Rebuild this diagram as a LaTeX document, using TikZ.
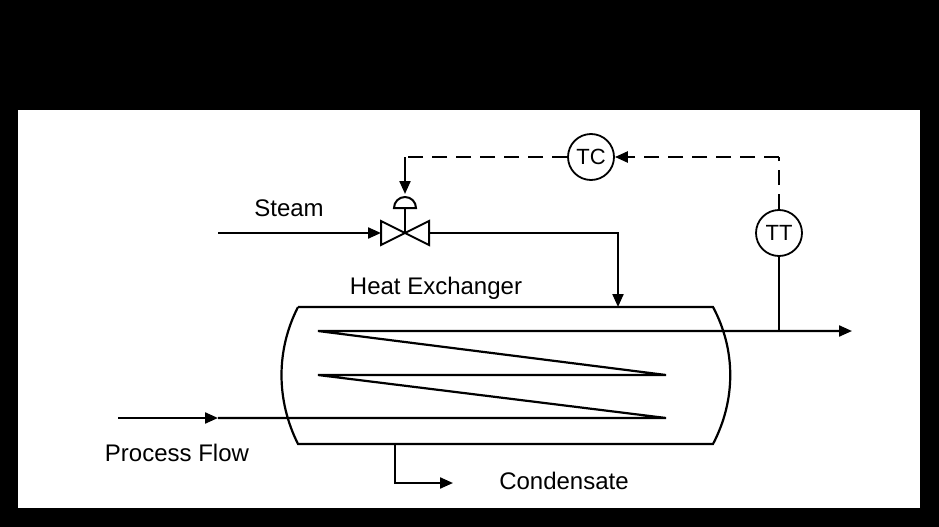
\documentclass[tikz,border=0pt]{standalone}
\usepackage{fontspec}
\setmainfont{Liberation Sans}
\usetikzlibrary{arrows.meta}
\begin{document}
\begin{tikzpicture}[x=1pt,y=-1pt,
  pipe/.style={line width=2.2pt},
  sig/.style={line width=2.4pt,dash pattern=on 15pt off 9pt},
  arr/.style={-{Triangle[length=13pt,width=11pt]}},
  inst/.style={circle,draw,line width=1.8pt,minimum size=46pt,inner sep=0pt,font=\fontsize{22}{22}\selectfont},
  lbl/.style={font=\fontsize{24}{24}\selectfont,inner sep=0pt}]
\fill[black] (0,0) rectangle (939,527);
\fill[white] (18,110) rectangle (920,508);
\useasboundingbox (0,0) rectangle (939,527);
% vessel
\draw[pipe] (298,307) -- (713,307) .. controls (736,350) and (736,400) .. (713,444) -- (298,444) .. controls (276,400) and (276,350) .. (298,307);
% coil
\coordinate (pin) at (118,418);
\coordinate (pmid) at (218,418);
\coordinate (pout) at (852,331);
\coordinate (tap) at (779,331);
\draw[pipe,arr] (pin) -- (pmid);
\draw[pipe,arr] (pmid) -- (666,418) -- (318,375) -- (666,375) -- (318,331) -- (pout);
% instruments
\node[inst] (TT) at (779,233) {TT};
\node[inst] (TC) at (591,157) {TC};
\draw[pipe] (tap) -- (TT.south);
\coordinate (c1) at (779,157);
\coordinate (c2) at (405,157);
\draw[sig] (TT.north) -- (c1);
\draw[sig,arr] (c1) -- (TC.east);
\draw[sig] (TC.west) -- (c2);
% valve
\coordinate (v) at (405,233);
\coordinate (act) at (405,194);
\draw[pipe,arr] (c2) -- (act);
\draw[line width=2pt] (381,221) -- (429,245) -- (429,221) -- (381,245) -- cycle;
\draw[line width=2pt] (v) -- (405,208);
\draw[line width=2pt] (394,208) -- (416,208) arc (0:-180:11) -- cycle;
% steam
\coordinate (s0) at (218,233);
\coordinate (s1) at (618,233);
\coordinate (s2) at (618,307);
\draw[pipe,arr] (s0) -- (381,233);
\draw[pipe,arr] (429,233) -- (s1) -- (s2);
% condensate
\coordinate (d0) at (395,444);
\coordinate (d1) at (395,483);
\coordinate (d2) at (453,483);
\draw[pipe,arr] (d0) -- (d1) -- (d2);
% labels
\node[lbl] (ls) at (289,208) {Steam};
\node[lbl] (lh) at (436,288) {Heat Exchanger};
\node[lbl] (lp) at (177,453) {Process Flow};
\node[lbl] (lc) at (564,481) {Condensate};
\end{tikzpicture}
\end{document}
